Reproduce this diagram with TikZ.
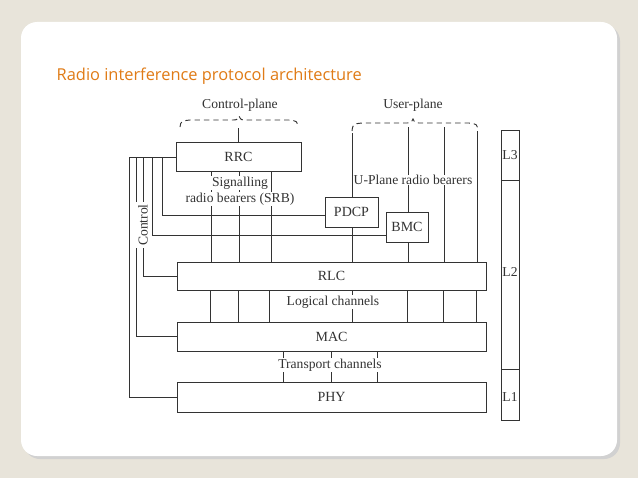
\documentclass[tikz,border=0pt]{standalone}
\usepackage{fontspec}
\setmainfont{Liberation Serif}
\newfontfamily\titlefont{Open Sans}
\definecolor{bg}{HTML}{E8E4DA}
\definecolor{ttl}{HTML}{E07B16}
\definecolor{ln}{HTML}{333333}
\begin{document}
\begin{tikzpicture}[x=0.75pt,y=-0.75pt,
  box/.style={draw=ln,line width=0.7pt,fill=white,minimum width=#1,inner sep=0pt,font=\fontsize{10.5}{12}\selectfont,text=ln},
  lb/.style={font=\fontsize{10.2}{12}\selectfont,text=ln,inner sep=0.5pt},
  lw/.style={lb,fill=white},
  w/.style={draw=ln,line width=0.7pt}]
\useasboundingbox (0,0) rectangle (638,478);
\fill[bg] (0,0) rectangle (638,478);
\fill[black!18,rounded corners=12pt] (24,25) rectangle (620,459);
\fill[white,rounded corners=12pt] (21,22) rectangle (617,456);
\node[anchor=west,text=ttl,font=\titlefont\fontsize{12.3}{14}\selectfont] (title) at (52,76) {Radio interference protocol architecture};
% boxes
\node[box=125*0.75pt,minimum height=29*0.75pt] (rrc) at (238.5,156.5) {RRC};
\node[box=53*0.75pt,minimum height=30*0.75pt] (pdcp) at (351.5,212) {PDCP};
\node[box=42*0.75pt,minimum height=30*0.75pt] (bmc) at (407,227) {BMC};
\node[box=309*0.75pt,minimum height=28*0.75pt] (rlc) at (331.5,276) {RLC};
\node[box=309*0.75pt,minimum height=29*0.75pt] (mac) at (331.5,336.5) {MAC};
\node[box=309*0.75pt,minimum height=30*0.75pt] (phy) at (331.5,397) {PHY};
% layer column
\draw[w] (501,130) rectangle (519,420);
\draw[w] (501,180) -- (519,180) (501,369) -- (519,369);
\node[lb] (l3) at (510,155) {L3};
\node[lb] (l2) at (510,272) {L2};
\node[lb] (l1) at (510,397) {L1};
% braces
\node[lb] (cp) at (240,105) {Control-plane};
\node[lb] (up) at (413,105) {User-plane};
\draw[w,dashed,dash pattern=on 4pt off 3pt] (180,127) .. controls (181,121) .. (190,120) -- (232,120) .. controls (237,120) .. (239,116) .. controls (241,120) .. (246,120) -- (289,120) .. controls (297,121) .. (298,127);
\draw[w,dashed,dash pattern=on 4pt off 3pt] (352,131) .. controls (353,124) .. (362,123) -- (406,123) .. controls (411,123) .. (413,119) .. controls (415,123) .. (420,123) -- (469,123) .. controls (477,124) .. (478,131);
\coordinate (cpt) at (238,128);
\draw[w] (cpt) -- (rrc.north -| cpt);
% user plane lines
\coordinate (u1) at (352,133); \coordinate (u2) at (408,127);
\coordinate (u3) at (444,127); \coordinate (u4) at (477,131);
\draw[w] (u1) -- (pdcp.north -| u1) (pdcp.south -| u1) -- (rlc.north -| u1);
\draw[w] (u2) -- (bmc.north -| u2) (bmc.south -| u2) -- (rlc.north -| u2);
\draw[w] (u3) -- (rlc.north -| u3);
\draw[w] (u4) -- (rlc.north -| u4);
% SRB
\foreach \x in {211,239,271} \draw[w] (rrc.south -| \x,0) -- (rlc.north -| \x,0);
\node[lw] (sig) at (240,183) {Signalling};
\node[lw] (srb) at (240,199) {radio bearers (SRB)};
\node[lw] (upr) at (413,180) {U-Plane radio bearers};
% control lines
\coordinate (c0) at (129,157);
\draw[w] (rrc.west |- c0) -- (c0);
\draw[w] (162,157) |- (pdcp.west |- 0,215);
\draw[w] (152,157) |- (bmc.west |- 0,235);
\draw[w] (143,157) |- (rlc.west);
\draw[w] (136,157) |- (mac.west);
\draw[w] (129,157) |- (phy.west);
\node[lw,rotate=90,inner sep=1.5pt] (ctl) at (143,225) {Control};
% logical channels
\foreach \x in {210,238,269,352,407,443,476} \draw[w] (rlc.south -| \x,0) -- (mac.north -| \x,0);
\node[lw] (logc) at (333,302) {Logical channels};
\foreach \x in {283,331,377} \draw[w] (mac.south -| \x,0) -- (phy.north -| \x,0);
\node[lw] (trc) at (330,365) {Transport channels};
\end{tikzpicture}
\end{document}
